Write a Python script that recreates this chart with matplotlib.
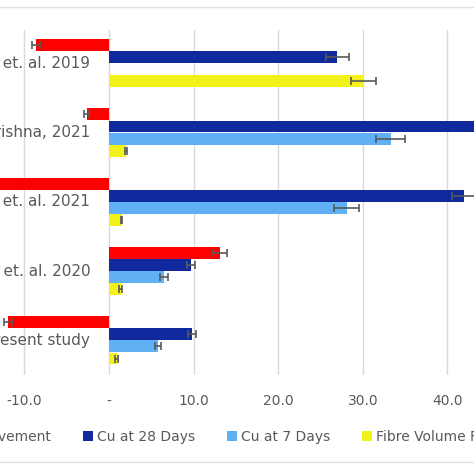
import matplotlib.pyplot as plt
import numpy as np
from matplotlib.lines import Line2D

studies = ["Galaz et. al. 2019", "Ramakrishna, 2021", "Rajan et. al. 2021",
           "Khan et. al. 2020", "Present study"]
improvement = [-8.6, -2.6, -20.0, 13.1, -11.9]
improvement_err = [0.5, 0.3, 0.5, 0.8, 0.5]
cu28 = [27.0, 48.0, 42.0, 9.7, 9.8]
cu28_err = [1.4, 1.5, 1.5, 0.5, 0.5]
cu7 = [0.0, 33.3, 28.1, 6.5, 5.8]
cu7_err = [np.nan, 1.7, 1.5, 0.5, 0.4]
fibre = [30.1, 2.0, 1.5, 1.4, 0.9]
fibre_err = [1.5, 0.1, 0.1, 0.2, 0.2]

series = [
    ("Strength Improvement", improvement, improvement_err, "#ff0000"),
    ("Cu at 28 Days", cu28, cu28_err, "#10299c"),
    ("Cu at 7 Days", cu7, cu7_err, "#5fb0f5"),
    ("Fibre Volume Fraction", fibre, fibre_err, "#f2f21a"),
]

fig = plt.figure(figsize=(4.74, 4.74), dpi=100)
ax = fig.add_axes([-18 / 474, 1 - 375 / 474, 550 / 474, 345 / 474])

y = np.arange(len(studies))
h = 0.175
for i, (name, vals, errs, col) in enumerate(series):
    pos = y + (i - 1.5) * h
    ax.barh(pos, vals, height=h * 0.98, color=col, label=name, zorder=2)
    ax.errorbar(vals, pos, xerr=errs, fmt="none", ecolor="#595959",
                elinewidth=1.2, capsize=3, capthick=1.2, zorder=3)

for yy, s in zip(y, studies):
    ax.text(-2.2, yy, s, ha="right", va="center", fontsize=11, color="#595959")

ax.set_xlim(-15, 50)
ax.set_ylim(4.5, -0.48)
ax.set_xticks([-10, 0, 10, 20, 30, 40])
ax.set_xticklabels(["-10.0", "-", "10.0", "20.0", "30.0", "40.0"])
ax.set_yticks([])
ax.tick_params(axis="x", length=0, pad=14, labelsize=10, labelcolor="#595959")
ax.grid(axis="x", color="#d9d9d9", linewidth=1, zorder=0)
for sp in ax.spines.values():
    sp.set_visible(False)

fig.legend(loc="center left", bbox_to_anchor=(-133 / 474, 1 - 437 / 474), ncol=4,
           frameon=False, fontsize=10, labelcolor="#595959",
           handlelength=0.7, handleheight=0.7, handletextpad=0.3, columnspacing=2.3)

fig.add_artist(Line2D([0, 1], [1 - 7 / 474] * 2, color="#e0e0e0", lw=1))
fig.add_artist(Line2D([0, 1], [1 - 462 / 474] * 2, color="#e0e0e0", lw=1))

fig.savefig("out.png", dpi=100)
